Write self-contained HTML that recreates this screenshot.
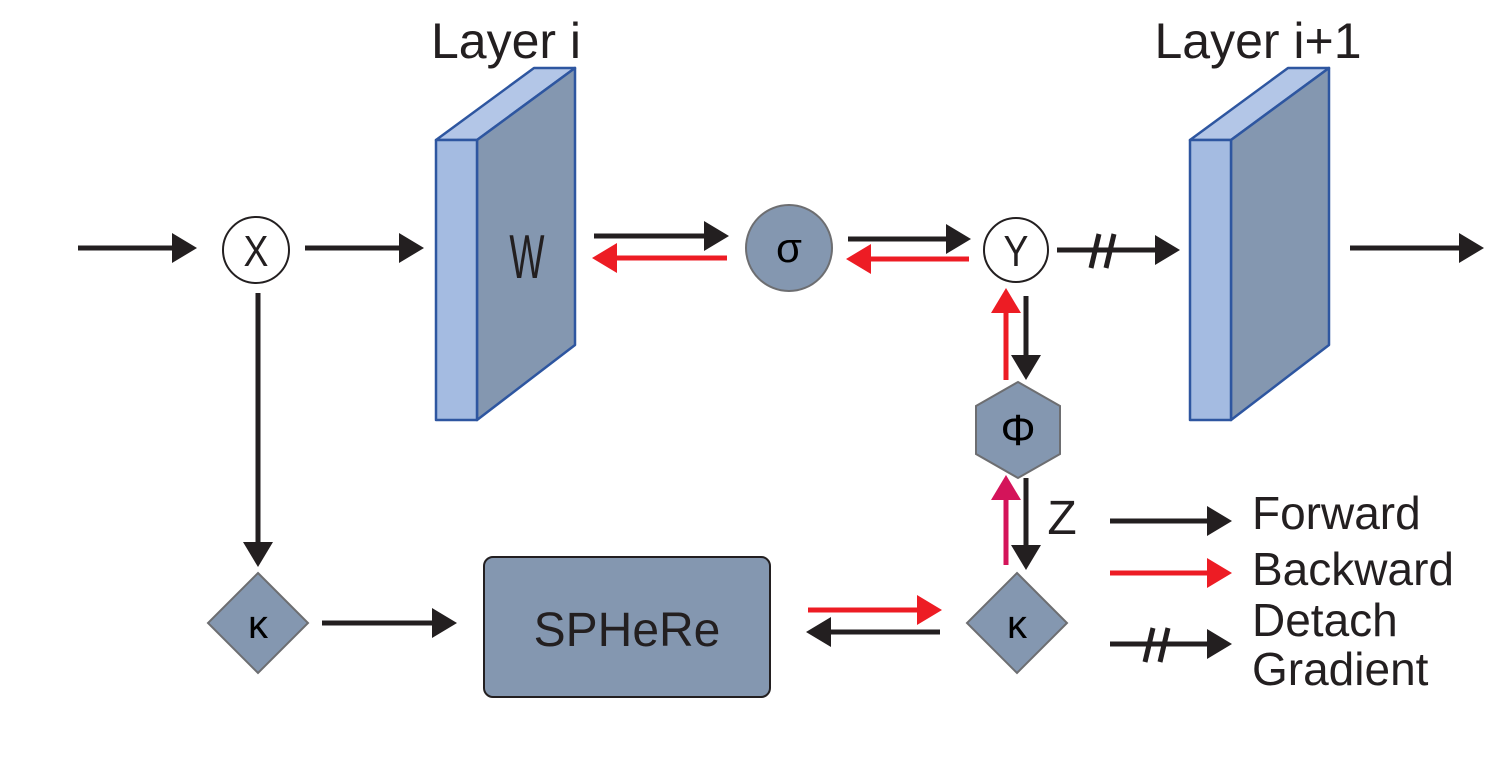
<!DOCTYPE html>
<html><head><meta charset="utf-8"><style>html,body{margin:0;padding:0;background:#fff}svg{display:block}</style></head><body>
<svg width="1496" height="764" viewBox="0 0 1496 764" xmlns="http://www.w3.org/2000/svg" font-family="Liberation Sans, DejaVu Sans, sans-serif">
<defs>
<marker id="ab" markerWidth="6" markerHeight="6" refX="4" refY="3" orient="auto" markerUnits="strokeWidth"><path d="M0,0 L5,3 L0,6 z" fill="#231f20"/></marker>
<marker id="ar" markerWidth="6" markerHeight="6" refX="4" refY="3" orient="auto" markerUnits="strokeWidth"><path d="M0,0 L5,3 L0,6 z" fill="#ed1c24"/></marker>
<marker id="am" markerWidth="6" markerHeight="6" refX="4" refY="3" orient="auto" markerUnits="strokeWidth"><path d="M0,0 L5,3 L0,6 z" fill="#d4145a"/></marker>
</defs>
<text x="506" y="58" font-size="50" text-anchor="middle" fill="#231f20">Layer i</text>
<text x="1258" y="58" font-size="50" text-anchor="middle" fill="#231f20">Layer i+1</text>
<g stroke="#2e56a0" stroke-width="2.5" stroke-linejoin="round">
<polygon points="436,140 534,68 575,68 477,140" fill="#b3c6e7"/>
<polygon points="477,140 575,68 575,345 477,420" fill="#8497b0"/>
<rect x="436" y="140" width="41" height="280" fill="#a4bbe1"/>
<polygon points="1190,140 1288,68 1329,68 1231,140" fill="#b3c6e7"/>
<polygon points="1231,140 1329,68 1329,345 1231,420" fill="#8497b0"/>
<rect x="1190" y="140" width="41" height="280" fill="#a4bbe1"/>
</g>
<text x="527" y="278" font-size="62" text-anchor="middle" fill="#231f20" transform="translate(527,255) scale(0.6,1) translate(-527,-255)">W</text>
<circle cx="256" cy="250" r="33" fill="#fff" stroke="#231f20" stroke-width="2"/>
<text x="256" y="266" font-size="44" text-anchor="middle" fill="#231f20" transform="translate(256,250) scale(0.85,1) translate(-256,-250)">X</text>
<circle cx="789" cy="248" r="43" fill="#8497b0" stroke="#6d6e71" stroke-width="2"/>
<text x="789" y="262" font-size="42" text-anchor="middle" fill="#000">σ</text>
<circle cx="1016" cy="250" r="32" fill="#fff" stroke="#231f20" stroke-width="2"/>
<text x="1016" y="266" font-size="44" text-anchor="middle" fill="#231f20" transform="translate(1016,250) scale(0.85,1) translate(-1016,-250)">Y</text>
<polygon points="1018,382 1060,406 1060,454 1018,478 976,454 976,406" fill="#8497b0" stroke="#6d6e71" stroke-width="2"/>
<text x="1018" y="445" font-size="44" text-anchor="middle" fill="#000">Φ</text>
<polygon points="258,573 308,623 258,673 208,623" fill="#8497b0" stroke="#6d6e71" stroke-width="2"/>
<text x="258" y="638" font-size="40" text-anchor="middle" fill="#000">κ</text>
<polygon points="1017,573 1067,623 1017,673 967,623" fill="#8497b0" stroke="#6d6e71" stroke-width="2"/>
<text x="1017" y="638" font-size="40" text-anchor="middle" fill="#000">κ</text>
<rect x="484" y="557" width="286" height="140" rx="9" fill="#8497b0" stroke="#231f20" stroke-width="2"/>
<text x="627" y="646" font-size="48" text-anchor="middle" fill="#231f20">SPHeRe</text>
<text x="1062" y="534" font-size="48" text-anchor="middle" fill="#231f20">Z</text>
<g stroke-width="5" fill="none">
<line x1="78" y1="248" x2="192" y2="248" stroke="#231f20" marker-end="url(#ab)"/>
<line x1="305" y1="248" x2="419" y2="248" stroke="#231f20" marker-end="url(#ab)"/>
<line x1="594" y1="236" x2="724" y2="236" stroke="#231f20" marker-end="url(#ab)"/>
<line x1="727" y1="258" x2="597" y2="258" stroke="#ed1c24" marker-end="url(#ar)"/>
<line x1="848" y1="239" x2="966" y2="239" stroke="#231f20" marker-end="url(#ab)"/>
<line x1="969" y1="259" x2="851" y2="259" stroke="#ed1c24" marker-end="url(#ar)"/>
<line x1="1057" y1="250" x2="1175" y2="250" stroke="#231f20" marker-end="url(#ab)"/>
<line x1="1350" y1="248" x2="1479" y2="248" stroke="#231f20" marker-end="url(#ab)"/>
<line x1="258" y1="293" x2="258" y2="562" stroke="#231f20" marker-end="url(#ab)"/>
<line x1="322" y1="623" x2="452" y2="623" stroke="#231f20" marker-end="url(#ab)"/>
<line x1="808" y1="610" x2="937" y2="610" stroke="#ed1c24" marker-end="url(#ar)"/>
<line x1="940" y1="632" x2="811" y2="632" stroke="#231f20" marker-end="url(#ab)"/>
<line x1="1006" y1="380" x2="1006" y2="293" stroke="#ed1c24" marker-end="url(#ar)"/>
<line x1="1026" y1="296" x2="1026" y2="375" stroke="#231f20" marker-end="url(#ab)"/>
<line x1="1006" y1="565" x2="1006" y2="480" stroke="#d4145a" marker-end="url(#am)"/>
<line x1="1026" y1="478" x2="1026" y2="565" stroke="#231f20" marker-end="url(#ab)"/>
<line x1="1110" y1="521" x2="1227" y2="521" stroke="#231f20" marker-end="url(#ab)"/>
<line x1="1110" y1="573" x2="1227" y2="573" stroke="#ed1c24" marker-end="url(#ar)"/>
<line x1="1110" y1="644" x2="1227" y2="644" stroke="#231f20" marker-end="url(#ab)"/>
</g>
<g stroke="#231f20" stroke-width="5">
<line x1="1091" y1="268" x2="1099" y2="234"/><line x1="1106" y1="268" x2="1114" y2="234"/>
<line x1="1145" y1="662" x2="1153" y2="628"/><line x1="1160" y1="662" x2="1168" y2="628"/>
</g>
<g font-size="46" fill="#231f20">
<text x="1252" y="529">Forward</text>
<text x="1252" y="585">Backward</text>
<text x="1252" y="636">Detach</text>
<text x="1252" y="685">Gradient</text>
</g>
</svg>
</body></html>
